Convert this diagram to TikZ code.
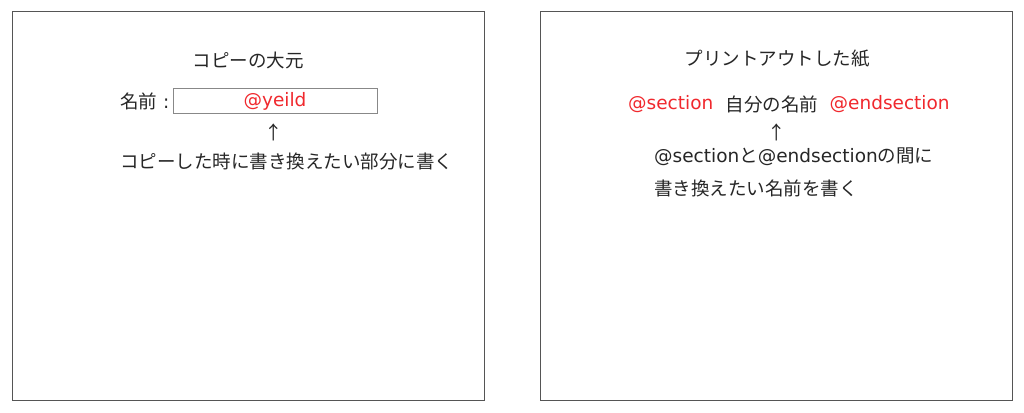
\documentclass[tikz,border=0pt]{standalone}
\usepackage{fontspec}
\setmainfont{Noto Sans CJK JP}
\newfontfamily\latn{DejaVu Sans}
\usetikzlibrary{positioning}
\definecolor{framegray}{HTML}{555555}
\definecolor{fieldgray}{HTML}{888888}
\definecolor{markred}{HTML}{F0282D}
\begin{document}
\begin{tikzpicture}[x=1pt,y=-1pt,
  every node/.style={inner sep=0pt,font=\fontsize{18.5}{22}\selectfont,text=black!85},
  sheet/.style={draw=framegray,line width=1pt},
  field/.style={draw=fieldgray,line width=0.8pt},
  tag/.style={text=markred,font=\fontsize{18.5}{22}\selectfont\latn}]
\useasboundingbox (0,0) rectangle (1024,412);

  % left sheet
  \draw[sheet] (12,12) rectangle (484,400);
  \node (origtitle) at (248,60) {コピーの大元};
  \node[anchor=west] (namelabel) at (120,101) {名前{\latn\ :}};
  \draw[field] (173,88) rectangle (377,113);
  \node[tag] (yeild) at (275,101) {@yeild};
  \node (arrowl) at (274,132) {↑};
  \node[anchor=west] (notel) at (120,161) {コピーした時に書き換えたい部分に書く};

  % right sheet
  \draw[sheet] (540,12) rectangle (1012,400);
  \node (printtitle) at (777,59) {プリントアウトした紙};
  \node (myname) at (772,104) {自分の名前};
  \node[tag,left=12pt of myname] (section) {@section};
  \node[tag,right=11pt of myname] (endsection) {@endsection};
  \node (arrowr) at (777,132) {↑};
  \node[anchor=west] (noter1) at (654,157) {{\latn @section}と{\latn @endsection}の間に};
  \node[anchor=west] (noter2) at (654,188) {書き換えたい名前を書く};

\end{tikzpicture}
\end{document}
